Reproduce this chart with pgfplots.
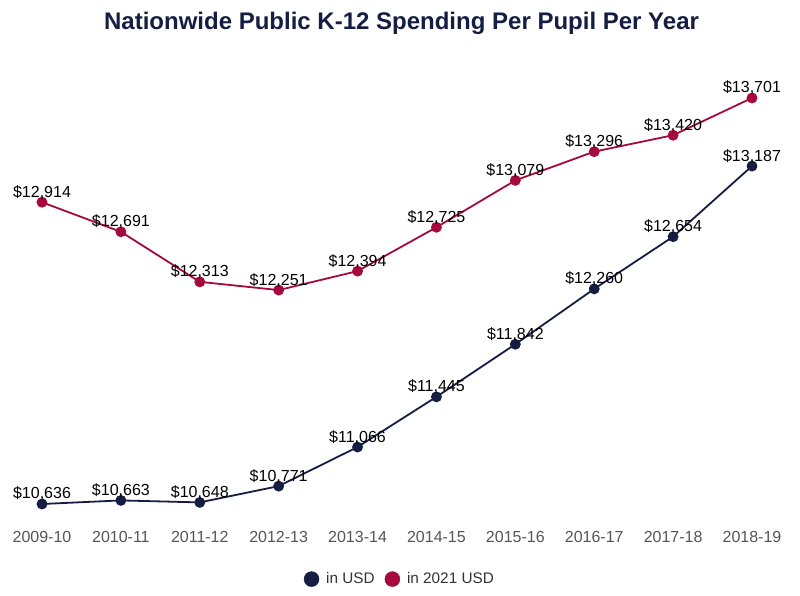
\documentclass[border=0pt]{standalone}
\usepackage{pgfplots}
\pgfplotsset{compat=1.18}
\usepackage{fontspec}
\setmainfont{Liberation Sans}
\definecolor{navyc}{HTML}{161D42}
\definecolor{crim}{HTML}{A6093D}
\definecolor{tickgray}{HTML}{555555}
\definecolor{leggray}{HTML}{333333}
\begin{document}
\begin{tikzpicture}
\path[use as bounding box] (0,0) rectangle (800pt,596pt);
\begin{axis}[
  at={(42pt,92pt)}, anchor=south west,
  scale only axis, width=710pt, height=406pt,
  xmin=0, xmax=9, ymin=10636, ymax=13701,
  axis line style={draw=none}, clip=false,
  hide y axis,
  xtick={0,...,9},
  xticklabels={2009-10,2010-11,2011-12,2012-13,2013-14,2014-15,2015-16,2016-17,2017-18,2018-19},
  xticklabel style={anchor=center, yshift=-33pt, text=tickgray, font=\fontsize{16}{18}\selectfont},
  major tick length=0pt,
  xtick style={draw=none},
  title={\textbf{Nationwide Public K-12 Spending Per Pupil Per Year}},
  title style={at={(0.5,1)}, anchor=base, yshift=62pt, xshift=4.5pt, text=navyc, font=\fontsize{24}{28}\selectfont},
  point meta=explicit symbolic,
  nodes near coords={\$\pgfplotspointmeta},
  every node near coord/.append style={anchor=base, inner sep=0pt, yshift=5pt, text=black, font=\fontsize{16}{18}\selectfont},
  legend style={at={(0.504,-0.185)}, anchor=center, draw=none, legend columns=2, font=\fontsize{15.3}{18}\selectfont, text=leggray,
    /tikz/every even column/.append style={column sep=8pt}},
  legend cell align=left,
]
\addplot[color=crim, line width=1.8pt, mark=*, mark size=4.5pt, mark options={fill=crim, draw=crim}, forget plot]
  table[meta=l] {
x y l
0 12914 12,914
1 12691 12,691
2 12313 12,313
3 12251 12,251
4 12394 12,394
5 12725 12,725
6 13079 13,079
7 13296 13,296
8 13420 13,420
9 13701 13,701
};
\addplot[color=navyc, line width=1.8pt, mark=*, mark size=4.5pt, mark options={fill=navyc, draw=navyc}, forget plot]
  table[meta=l] {
x y l
0 10636 10,636
1 10663 10,663
2 10648 10,648
3 10771 10,771
4 11066 11,066
5 11445 11,445
6 11842 11,842
7 12260 12,260
8 12654 12,654
9 13187 13,187
};
\addlegendimage{legend image code/.code={\fill[navyc] (0,0) circle (7.5pt);}}
\addlegendentry{\hspace{5pt}in USD}
\addlegendimage{legend image code/.code={\fill[crim] (0,0) circle (7.5pt);}}
\addlegendentry{\hspace{5pt}in 2021 USD}
\end{axis}
\end{tikzpicture}
\end{document}
